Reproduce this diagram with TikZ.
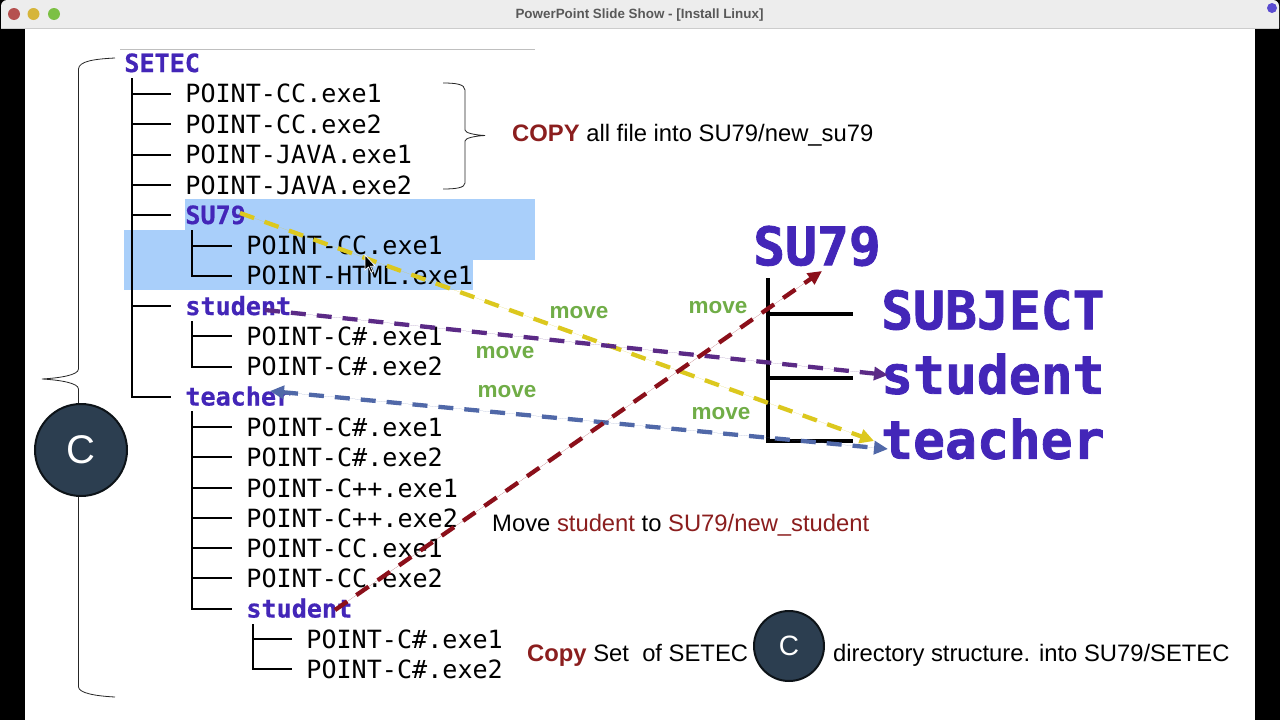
\documentclass[tikz,border=0pt]{standalone}
\usepackage{fontspec}
\setmainfont{Liberation Sans}
\newfontfamily\monof[BoldFeatures={FakeBold=0.6}]{DejaVu Sans Mono}
\newfontfamily\monoheavy[BoldFeatures={FakeBold=1.5}]{DejaVu Sans Mono}
\usetikzlibrary{arrows.meta}
\definecolor{dirblue}{HTML}{4326B8}
\definecolor{selblue}{HTML}{A9CFFA}
\definecolor{darkred}{HTML}{8B1E1E}
\definecolor{arrowred}{HTML}{8B0F1A}
\definecolor{movegreen}{HTML}{70AD47}
\definecolor{mvyellow}{HTML}{DCC81E}
\definecolor{mvpurple}{HTML}{5B2A86}
\definecolor{mvblue}{HTML}{5068A8}
\definecolor{slate}{HTML}{2C3E50}
\definecolor{barred}{HTML}{B5504F}
\definecolor{baryellow}{HTML}{D6B53A}
\definecolor{bargreen}{HTML}{7CC044}
\definecolor{bardot}{HTML}{5A4BD0}
\definecolor{bargrey}{HTML}{EDEDED}
\tikzset{
  rowbase/.style={anchor=west,inner sep=0pt,text height=18pt,text depth=0pt,xshift=-0.8pt},
  filerow/.style={rowbase,font=\monof\fontsize{25.1}{30}\selectfont,text=black},
  dirrow/.style={rowbase,font=\monof\bfseries\fontsize{25.1}{30}\selectfont,text=dirblue},
  bigdir/.style={anchor=center,inner sep=0pt,font=\monoheavy\bfseries\fontsize{53}{60}\selectfont,text=dirblue},
  treeline/.style={draw=black,line width=2pt},
  bigtree/.style={draw=black,line width=4pt},
  brace/.style={draw=black!85,line width=0.8pt},
  caption/.style={anchor=west,inner sep=0pt,font=\fontsize{23.8}{28}\selectfont,text=black},
  movelabel/.style={anchor=center,inner sep=0pt,font=\bfseries\fontsize{22.5}{26}\selectfont,text=movegreen},
  mv/.style={line width=4.3pt,dash pattern=on 15pt off 11pt},
  circ/.style={circle,draw=black!70!slate,line width=2pt,fill=slate,text=white,inner sep=0pt},
  winbtn/.style={circle,minimum size=12pt,inner sep=0pt},
}
\begin{document}
\begin{tikzpicture}[x=1pt,y=-1pt]
\useasboundingbox (0,0) rectangle (1280,720);
% screen
\fill[black] (0,0) rectangle (1280,720);
\fill[white] (25,28) rectangle (1255,720);
\fill[bargrey,rounded corners=6pt] (1,40) rectangle (1279,0);
\fill[black] (0,28) rectangle (25,45);
\fill[black] (1255,28) rectangle (1280,45);
\fill[white] (25,28) rectangle (1255,45);
\draw[black!20,line width=0.8pt] (1,28.4) -- (1279,28.4);
\node[anchor=center,inner sep=0pt,font=\bfseries\fontsize{13.4}{16}\selectfont,text=black!65] (title) at (639.5,15) {PowerPoint Slide Show - [Install Linux]};
\node[winbtn,fill=barred] (btnr) at (14,14) {};
\node[winbtn,fill=baryellow] (btny) at (33.5,14) {};
\node[winbtn,fill=bargreen] (btng) at (54,14) {};
\node[winbtn,fill=bardot,minimum size=10pt] (dot) at (1272,8) {};
% selection
\fill[selblue] (185,199) rectangle (535,230);
\fill[selblue] (124,230) rectangle (535,260);
\fill[selblue] (124,260) rectangle (473,290);
\draw[black!25,line width=0.6pt] (120,49.5) -- (535,49.5);
% rows
\node[dirrow] (setec) at (125,63) {SETEC};
\node[filerow] (a1) at (186,93.5) {POINT-CC.exe1};
\node[filerow] (a2) at (186,124) {POINT-CC.exe2};
\node[filerow] (a3) at (186,154.5) {POINT-JAVA.exe1};
\node[filerow] (a4) at (186,185) {POINT-JAVA.exe2};
\node[dirrow] (su) at (186,215) {SU79};
\node[filerow] (b1) at (247,245.5) {POINT-CC.exe1};
\node[filerow] (b2) at (247,275.5) {POINT-HTML.exe1};
\node[dirrow] (stu) at (186,306) {student};
\node[filerow] (c1) at (247,336) {POINT-C\#.exe1};
\node[filerow] (c2) at (247,366.5) {POINT-C\#.exe2};
\node[dirrow] (tea) at (186,396.5) {teacher};
\node[filerow] (d1) at (247,427) {POINT-C\#.exe1};
\node[filerow] (d2) at (247,457) {POINT-C\#.exe2};
\node[filerow] (d3) at (247,488) {POINT-C++.exe1};
\node[filerow] (d4) at (247,518) {POINT-C++.exe2};
\node[filerow] (d5) at (247,548) {POINT-CC.exe1};
\node[filerow] (d6) at (247,578) {POINT-CC.exe2};
\node[dirrow] (dstu) at (247,608.5) {student};
\node[filerow] (e1) at (307,639) {POINT-C\#.exe1};
\node[filerow] (e2) at (307,669) {POINT-C\#.exe2};
% tree
\coordinate (t1) at (132,78);
\coordinate (t2) at (192,230);
\coordinate (t3) at (192,321);
\coordinate (t4) at (192,411);
\coordinate (t5) at (252.5,624);
\draw[treeline] (t1) -- (t1 |- tea.west) -- ([xshift=-14pt]tea.west);
\foreach \n in {a1,a2,a3,a4,su,stu}{\draw[treeline] (t1 |- \n.west) -- ([xshift=-14pt]\n.west);}
\draw[treeline] (t2) -- (t2 |- b2.west) -- ([xshift=-14pt]b2.west);
\draw[treeline] (t2 |- b1.west) -- ([xshift=-14pt]b1.west);
\draw[treeline] (t3) -- (t3 |- c2.west) -- ([xshift=-14pt]c2.west);
\draw[treeline] (t3 |- c1.west) -- ([xshift=-14pt]c1.west);
\draw[treeline] (t4) -- (t4 |- dstu.west) -- ([xshift=-14pt]dstu.west);
\foreach \n in {d1,d2,d3,d4,d5,d6}{\draw[treeline] (t4 |- \n.west) -- ([xshift=-14pt]\n.west);}
\draw[treeline] (t5) -- (t5 |- e2.west) -- ([xshift=-14pt]e2.west);
\draw[treeline] (t5 |- e1.west) -- ([xshift=-14pt]e1.west);
% braces
\draw[brace] (115,58) .. controls (95,59) and (79,61) .. (78.5,69) -- (78.5,369)
  .. controls (78.5,375) and (60,378) .. (42,379) .. controls (60,380) and (78.5,383) .. (78.5,389)
  -- (78.5,687) .. controls (79,693) and (95,696) .. (115,697);
\draw[brace] (443,83) .. controls (455,83) and (465,84) .. (465,90) -- (465,130)
  .. controls (465,133) and (475,135) .. (485,135.5) .. controls (475,136) and (465,138) .. (465,141)
  -- (465,183) .. controls (465,188) and (455,189) .. (443,189);
% big tree and labels
\node[bigdir] (bsu) at (817,246) {SU79};
\node[bigdir,anchor=west] (bsub) at (881,310) {SUBJECT};
\node[bigdir,anchor=west] (bstu) at (881,374) {student};
\node[bigdir,anchor=west] (btea) at (881,439) {teacher};
\coordinate (bt) at (768,278);
\coordinate (bs1) at (853,314);
\coordinate (bs2) at (853,378);
\coordinate (bs3) at (853,441);
\draw[bigtree] (bt) -- (bt |- bs3) -- (bs3);
\draw[bigtree] (bt |- bs1) -- (bs1);
\draw[bigtree] (bt |- bs2) -- (bs2);
% captions
\node[caption] (copy) at (512,135.5) {\textcolor{darkred}{\textbf{COPY}} all file into SU79/new\_su79};
\node[caption] (mvs) at (492,525.5) {Move \textcolor{darkred}{student} to \textcolor{darkred}{SU79/new\_student}};
\node[caption] (setc) at (527,655) {\textcolor{darkred}{\textbf{Copy}} Set\ \ of SETEC};
\node[caption] (dirs) at (833,655) {directory structure. into SU79/SETEC};
\node[circ,minimum size=92pt,font=\fontsize{40}{44}\selectfont] (bigc) at (81,450) {C};
\node[circ,minimum size=70pt,font=\fontsize{28}{32}\selectfont] (smallc) at (789,646) {C};
% move labels
\node[movelabel] (m1) at (579,313) {move};
\node[movelabel] (m2) at (505,353) {move};
\node[movelabel] (m3) at (507,392) {move};
\node[movelabel] (m4) at (718,308) {move};
\node[movelabel] (m5) at (721,414) {move};
% arrows
\coordinate (ystart) at (240,213);
\coordinate (yend) at (874,441);
\coordinate (pstart) at (265,310);
\coordinate (pend) at (888,375);
\coordinate (bstart) at (270,391);
\coordinate (bend) at (888,449);
\coordinate (rstart) at (335,610);
\coordinate (rend) at (822,271);
\draw[mv,draw=mvyellow,fill=mvyellow,-{Triangle[length=14pt,width=14pt]}] (ystart) -- (yend);
\draw[mv,draw=mvpurple,fill=mvpurple,-{Triangle[length=14pt,width=13pt]}] (pstart) -- (pend);
\draw[mv,draw=mvblue,fill=mvblue,{Triangle[length=14pt,width=13pt]}-{Triangle[length=14pt,width=13pt]}] (bstart) -- (bend);
\draw[mv,draw=arrowred,fill=arrowred,-{Triangle[length=14pt,width=13pt]}] (rstart) -- (rend);
% pointer
\draw[fill=black,draw=white,line width=0.7pt] (365,255) -- (365,270) -- (368.5,267) -- (371,272.5) -- (373,271.5) -- (370.5,266.2) -- (375,266) -- cycle;
\end{tikzpicture}
\end{document}
